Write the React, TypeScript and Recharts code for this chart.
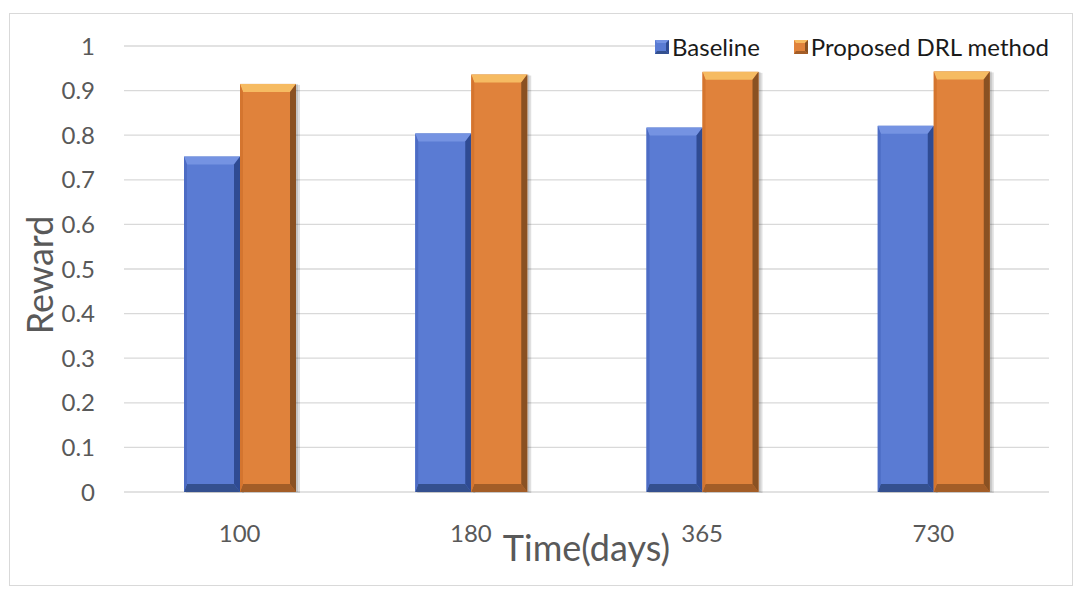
import React from 'react';
import { BarChart, Bar, XAxis, YAxis, CartesianGrid } from 'recharts';

const categories = ['100', '180', '365', '730'];
const baselineValues = [0.752, 0.804, 0.817, 0.821];
const proposedValues = [0.915, 0.936, 0.942, 0.943];
const yTicks = [0, 0.1, 0.2, 0.3, 0.4, 0.5, 0.6, 0.7, 0.8, 0.9, 1];
const seriesNames = ['Baseline', 'Proposed DRL method'];

const data = categories.map((c, i) => ({
  name: c,
  baseline: baselineValues[i],
  proposed: proposedValues[i],
}));

const FONT = 'Lato, "Open Sans", sans-serif';

const palettes = {
  blue: { face: '#5a7bd3', top: '#7593e2', left: '#4d6cc4', right: '#2f4b93', bottom: '#34508f' },
  orange: { face: '#e0823b', top: '#f6bb62', left: '#d4752f', right: '#8a5122', bottom: '#a35d27' },
};

const makeShape = (p: any) => (props: any) => {
  const { x, y, width: w, height: h } = props;
  if (!w || !h) return null;
  const b = Math.min(8, h / 2);
  const l = 3;
  const r = 6;
  return (
    <g>
      <rect x={x + 2} y={y + 1} width={w + 2} height={h} fill="#000" opacity={0.12} />
      <rect x={x + 1} y={y} width={w + 1} height={h} fill="#000" opacity={0.12} />
      <rect x={x} y={y} width={w} height={h} fill={p.face} />
      <polygon points={`${x},${y} ${x + w},${y} ${x + w - r},${y + b} ${x + l},${y + b}`} fill={p.top} />
      <polygon points={`${x},${y + h} ${x + w},${y + h} ${x + w - r},${y + h - b} ${x + l},${y + h - b}`} fill={p.bottom} />
      <polygon points={`${x},${y} ${x + l},${y + b} ${x + l},${y + h - b} ${x},${y + h}`} fill={p.left} />
      <polygon points={`${x + w},${y} ${x + w - r},${y + b} ${x + w - r},${y + h - b} ${x + w},${y + h}`} fill={p.right} />
    </g>
  );
};

const BlueShape = makeShape(palettes.blue);
const OrangeShape = makeShape(palettes.orange);

const LegendSquare = ({ p }: { p: any }) => (
  <svg width={14} height={14} style={{ display: 'block' }}>
    <rect x={0} y={0} width={14} height={14} fill={p.face} />
    <polygon points="0,0 14,0 11,3 2,3" fill={p.top} />
    <polygon points="14,0 11,3 11,11 14,14" fill={p.right} />
    <polygon points="0,14 14,14 11,11 2,11" fill={p.bottom} />
  </svg>
);

export default function App() {
  return (
    <div style={{ position: 'absolute', left: 0, top: 0, width: 1081, height: 596, background: '#fff' }}>
      <div
        style={{
          position: 'absolute',
          left: 9,
          top: 13,
          width: 1062,
          height: 571,
          border: '1px solid #d9d9d9',
        }}
      />
      <div style={{ position: 'absolute', left: 0, top: 0 }}>
        <BarChart
          width={1081}
          height={596}
          data={data}
          margin={{ top: 46, right: 32, bottom: 0, left: 0 }}
          barGap={0}
          barSize={56}
        >
          <CartesianGrid vertical={false} stroke="#d9d9d9" strokeWidth={1.3} />
          <XAxis
            dataKey="name"
            height={104}
            axisLine={false}
            tickLine={false}
            tickSize={0}
            tickMargin={33}
            tick={{ fill: '#595959', fontSize: 24, fontFamily: FONT }}
            label={{ value: 'Time(days)', position: 'center', dy: 4, fill: '#595959', fontSize: 36, fontFamily: FONT }}
          />
          <YAxis
            width={124}
            domain={[0, 1]}
            ticks={yTicks}
            interval={0}
            axisLine={false}
            tickLine={false}
            tickSize={0}
            tickMargin={29}
            tick={{ fill: '#595959', fontSize: 24, fontFamily: FONT }}
            label={{ value: 'Reward', angle: -90, position: 'center', dx: -22, dy: 6, fill: '#595959', fontSize: 36, fontFamily: FONT }}
          />
          <Bar dataKey="baseline" name={seriesNames[0]} fill={palettes.blue.face} shape={BlueShape} isAnimationActive={false} />
          <Bar dataKey="proposed" name={seriesNames[1]} fill={palettes.orange.face} shape={OrangeShape} isAnimationActive={false} />
        </BarChart>
      </div>
      <div
        style={{
          position: 'absolute',
          left: 655,
          top: 32,
          display: 'flex',
          alignItems: 'center',
          fontFamily: FONT,
          fontSize: 24,
          color: '#1a1a1a',
          whiteSpace: 'nowrap',
          background: '#fff',
        }}
      >
        <LegendSquare p={palettes.blue} />
        <span style={{ marginLeft: 3, marginRight: 34 }}>{seriesNames[0]}</span>
        <LegendSquare p={palettes.orange} />
        <span style={{ marginLeft: 3 }}>{seriesNames[1]}</span>
      </div>
    </div>
  );
}
